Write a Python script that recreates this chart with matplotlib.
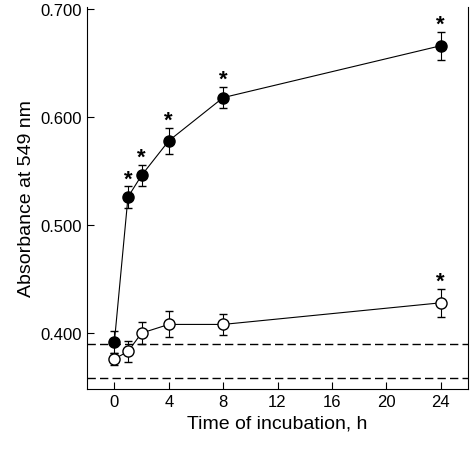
import matplotlib
matplotlib.use("Agg")
import matplotlib.pyplot as plt

hours = [0, 1, 2, 4, 8, 24]
filled = [0.392, 0.526, 0.546, 0.578, 0.618, 0.666]
filled_err = [0.010, 0.010, 0.010, 0.012, 0.010, 0.013]
open_ = [0.376, 0.383, 0.400, 0.408, 0.408, 0.428]
open_err = [0.006, 0.010, 0.010, 0.012, 0.010, 0.013]
star_filled = [False, True, True, True, True, True]
star_open = [False, False, False, False, False, True]
xticks = [0, 4, 8, 12, 16, 20, 24]
yticks = [0.400, 0.500, 0.600, 0.700]
ref_lines = [0.390, 0.358]

plt.rcParams['font.family'] = ['Liberation Sans', 'DejaVu Sans']
fig = plt.figure(figsize=(4.74, 4.64), dpi=100)
ax = fig.add_axes([0.184, 0.159, 0.803, 0.824])

for y in ref_lines:
    ax.axhline(y, color='black', ls=(0, (6, 3)), lw=1)

ax.errorbar(hours, filled, yerr=filled_err, fmt='-o', color='black', mfc='black',
            ms=8, lw=0.8, capsize=3, elinewidth=0.8, zorder=3)
ax.errorbar(hours, open_, yerr=open_err, fmt='-o', color='black', mfc='white',
            ms=8, lw=0.8, capsize=3, elinewidth=0.8, zorder=3)
for x, y, e, s in zip(hours, filled, filled_err, star_filled):
    if s:
        ax.text(x, y + e - 0.003, '*', ha='center', va='bottom', fontsize=16, fontweight='bold')
for x, y, e, s in zip(hours, open_, open_err, star_open):
    if s:
        ax.text(x, y + e - 0.003, '*', ha='center', va='bottom', fontsize=16, fontweight='bold')

ax.set_xlim(-2, 26)
ax.set_ylim(0.348, 0.702)
ax.set_xticks(xticks)
ax.set_yticks(yticks)
ax.set_yticklabels([f"{v:.3f}" for v in yticks])
ax.spines['top'].set_visible(False)
ax.tick_params(labelsize=12, direction='in', length=5)
ax.set_xlabel('Time of incubation, h', fontsize=14)
ax.set_ylabel('Absorbance at 549 nm', fontsize=14)
fig.savefig('out.png', dpi=100)
